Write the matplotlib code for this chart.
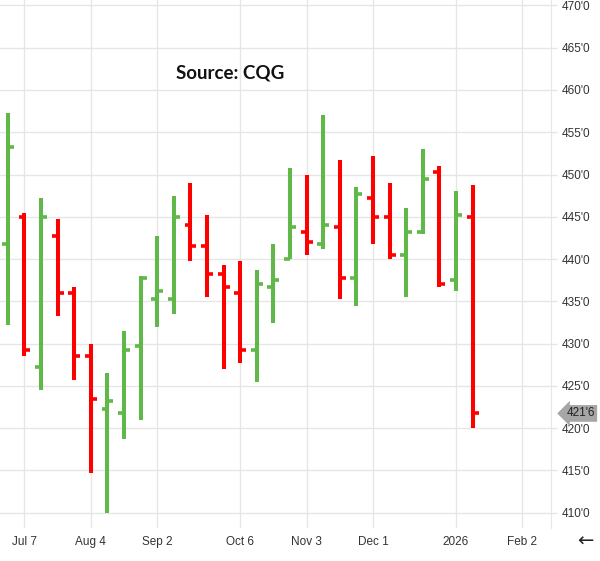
import numpy as np
import matplotlib
matplotlib.use("Agg")
import matplotlib.pyplot as plt
from matplotlib.ticker import FixedLocator, FuncFormatter, MultipleLocator

# weekly bars, week 0 = week of Jul 7
weeks = list(range(-1, 28))
opens = [441.75, 445.0, 427.25, 442.75, 436.0, 428.5, 422.25, 421.75, 429.75, 435.25,
         435.25, 444.0, 441.5, 438.25, 436.0, 429.25, 436.75, 440.0, 443.25, 441.75,
         443.75, 437.75, 447.25, 445.0, 440.5, 443.25, 450.25, 437.5, 445.0]
highs = [457.25, 445.5, 447.25, 444.75, 436.75, 430.0, 426.5, 431.5, 438.0, 442.75,
         447.5, 449.0, 445.25, 439.25, 439.75, 438.75, 441.75, 450.75, 450.0, 457.0,
         451.75, 448.5, 452.25, 449.0, 446.0, 453.0, 451.0, 448.0, 448.75]
lows = [432.25, 428.5, 424.5, 433.25, 425.75, 414.75, 410.0, 418.75, 421.0, 432.0,
        433.5, 439.75, 435.5, 427.0, 427.75, 425.5, 432.5, 440.0, 440.5, 441.25,
        435.25, 434.5, 441.75, 440.0, 435.5, 443.0, 436.75, 436.25, 420.0]
closes = [453.25, 429.25, 445.0, 436.0, 428.5, 423.5, 423.25, 429.25, 437.75, 436.25,
          445.0, 441.5, 438.25, 436.75, 429.25, 437.0, 437.5, 443.75, 442.0, 444.0,
          437.75, 447.75, 445.0, 440.5, 443.25, 449.5, 437.0, 445.25, 421.75]

tick_weeks = [0, 4, 8, 13, 17, 21, 26, 30]
tick_labels = ["Jul 7", "Aug 4", "Sep 2", "Oct 6", "Nov 3", "Dec 1", "2026", "Feb 2"]

green = "#5fb847"
red = "#ff0000"
grid_col = "#e6e6e6"

fig = plt.figure(figsize=(6.0, 5.61), dpi=100)
ax = fig.add_axes([0, 1 - 528 / 561, 551 / 600, 528 / 561])

x = np.array(weeks, dtype=float)
o = np.array(opens)
c = np.array(closes)
colors = [green if cc >= oo else red for oo, cc in zip(o, c)]

tick_w = 0.36
ax.vlines(x, lows, highs, colors=colors, linewidth=2.9, zorder=3)
ax.hlines(o, x - tick_w, x, colors=colors, linewidth=2.6, zorder=3)
ax.hlines(c, x, x + tick_w, colors=colors, linewidth=2.6, zorder=3)

ax.set_xlim(-1.476, 31.72)
ax.set_ylim(408.2, 470.64)

ax.xaxis.set_major_locator(FixedLocator(tick_weeks))
ax.set_xticklabels(tick_labels)
ax.yaxis.set_major_locator(MultipleLocator(5))
ax.yaxis.set_major_formatter(FuncFormatter(lambda v, p: f"{int(v)}'{int(round((v % 1) * 8))}"))
ax.yaxis.tick_right()

ax.grid(True, color=grid_col, linewidth=1.0, zorder=0)
for side in ["top", "left", "bottom"]:
    ax.spines[side].set_visible(False)
ax.spines["right"].set_color(grid_col)
ax.tick_params(axis="y", length=4.5, width=1.0, color=grid_col, pad=3.5,
               labelsize=8.5, labelcolor="#333333")
ax.tick_params(axis="x", length=0, pad=6, labelsize=8.5, labelcolor="#333333")
for lab in ax.get_xticklabels() + ax.get_yticklabels():
    lab.set_fontfamily("Liberation Sans")

# last price tag
last = closes[-1]
ax.annotate(f"{int(last)}'{int(round((last % 1) * 8))}", xy=(1.0, last),
            xycoords=ax.get_yaxis_transform(), xytext=(11, 0), textcoords="offset points",
            ha="left", va="center", fontsize=8.5, color="#222222", family="Liberation Sans",
            bbox=dict(boxstyle="larrow,pad=0.2", fc="#a6a6a6", ec="none"), zorder=5,
            annotation_clip=False)

ax.text(0.418, 0.862, "Source: CQG", transform=ax.transAxes, ha="center", va="center",
        fontsize=13.5, fontweight="bold", family="Lato", color="#111111")

fig.text(585 / 600, 1 - 541 / 561, "\u2190", ha="center", va="center",
         fontsize=14, color="#222222", family="DejaVu Sans")

fig.savefig("out.png", dpi=100)
